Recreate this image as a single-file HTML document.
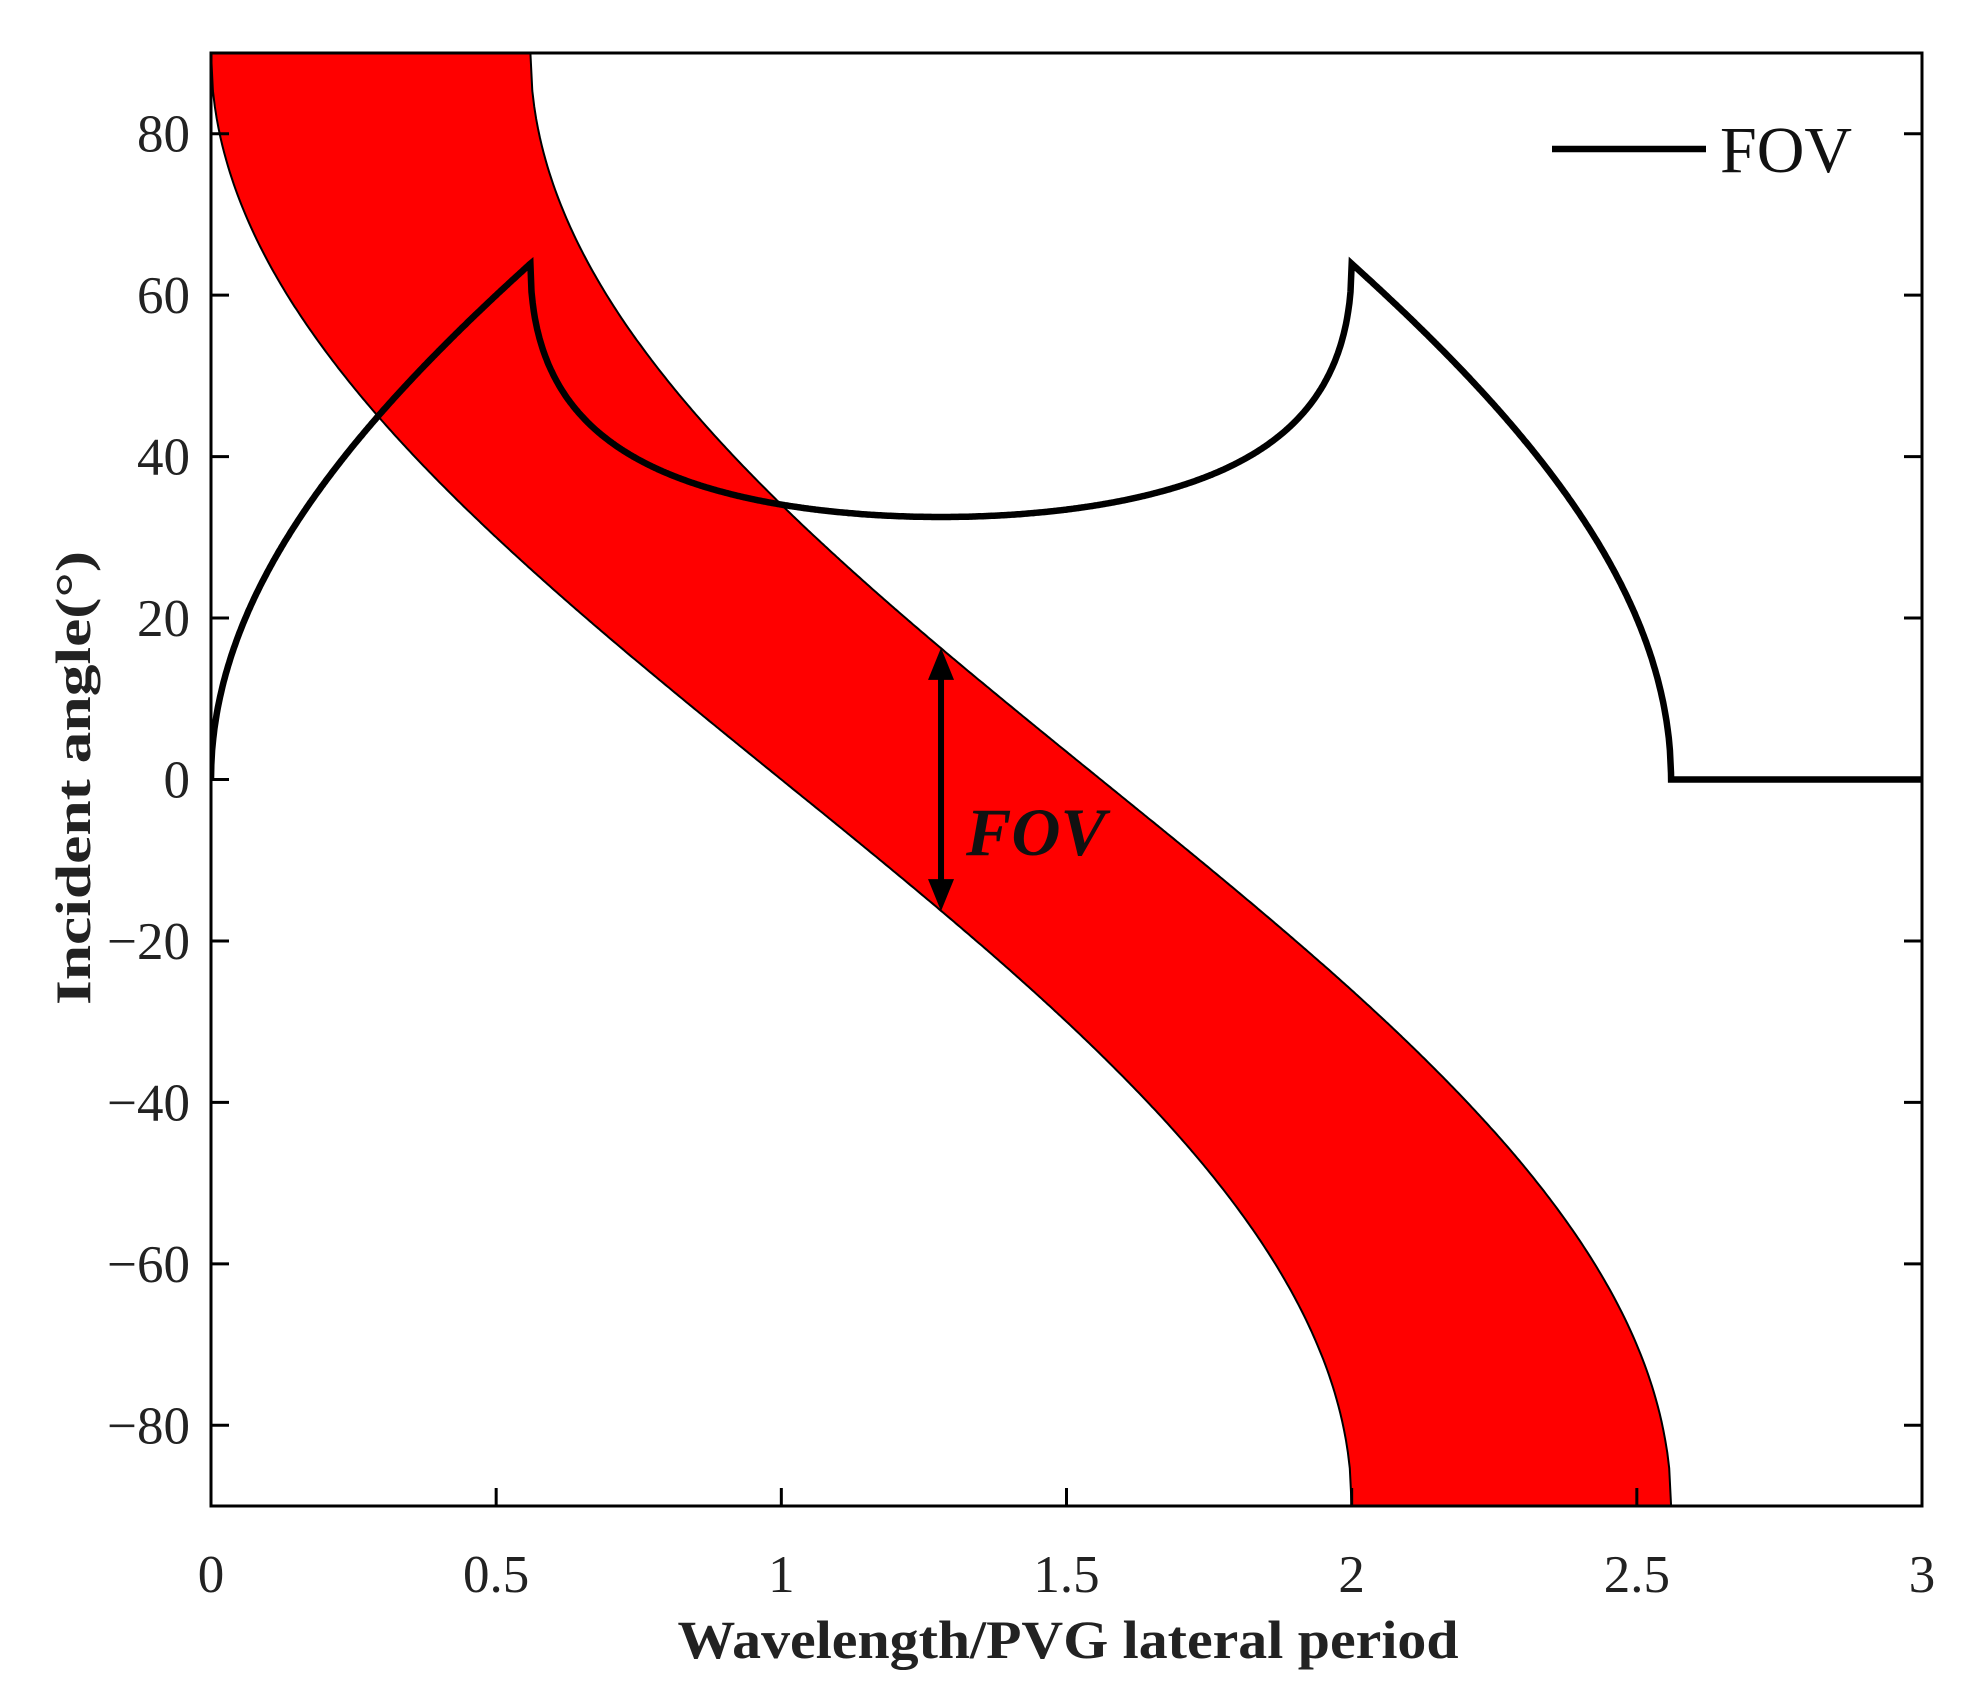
<!DOCTYPE html>
<html><head><meta charset="utf-8"><style>html,body{margin:0;padding:0;background:#fff}svg{display:block}</style></head>
<body>
<svg id="s" xmlns="http://www.w3.org/2000/svg" width="1965" height="1689" viewBox="0 0 1965 1689" font-family="'Liberation Serif', serif">
<defs><clipPath id="c"><rect x="211" y="53" width="1711" height="1453"/></clipPath></defs>
<g clip-path="url(#c)">
<path id="band" fill="#ff0000" stroke="#000" stroke-width="2"/>
<path id="fov" fill="none" stroke="#000" stroke-width="6.5" stroke-linejoin="miter"/>
</g>
<g id="ticks" stroke="#000" stroke-width="3"></g>
<rect x="211" y="53" width="1711" height="1453" fill="none" stroke="#000" stroke-width="3"/>
<g id="lab" font-size="53" fill="#222"></g>
<line x1="1552" y1="149" x2="1706" y2="149" stroke="#000" stroke-width="6.5"/>
<text x="1720" y="172" font-size="66" fill="#111">FOV</text>
<g id="arrow"></g>
<text x="966" y="855" font-size="68" font-weight="bold" font-style="italic" fill="#111">FOV</text>
<text x="0" y="0" font-size="50" font-weight="bold" fill="#222" textLength="454" lengthAdjust="spacingAndGlyphs" transform="translate(90,778) rotate(-90)" text-anchor="middle">Incident angle(°)</text>
<text x="1068" y="1658" font-size="54" font-weight="bold" fill="#222" textLength="781" lengthAdjust="spacingAndGlyphs" text-anchor="middle">Wavelength/PVG lateral period</text>
</svg>
<script>
var L=211,R=1922,T=53,B=1506;
function X(x){return L+(x/3)*(R-L);}
function Y(d){return T+(90-d)/180*(B-T);}
var D=180/Math.PI;function as(v){v=Math.max(-1,Math.min(1,v));return Math.asin(v)*D;}
var N=600,p=[],i,x;
for(i=0;i<=N;i++){x=0.56+2*i/N;p.push(X(x).toFixed(1)+','+Y(as(1.56-x)).toFixed(1));}
var q=[];
for(i=N;i>=0;i--){x=2*i/N;q.push(X(x).toFixed(1)+','+Y(as(1-x)).toFixed(1));}
var d='M'+X(0)+','+Y(90)+' L'+p.join(' L')+' L'+X(2.56)+','+Y(-95)+' L'+X(2)+','+Y(-95)+' L'+q.join(' L')+' Z';
document.getElementById('band').setAttribute('d',d);
function fov(x){if(x<=0.56)return 90-as(1-x);if(x<=2)return as(1.56-x)-as(1-x);if(x<=2.56)return as(1.56-x)+90;return 0;}
var M=1500;
var pts=[0,0.0005,0.002,0.005,0.56,2,2.5599,2.56];
var all=[];for(i=0;i<=M;i++)all.push(3*i/M);all=all.concat(pts).sort(function(a,b){return a-b});
var f=all.map(function(x){return X(x).toFixed(1)+','+Y(fov(x)).toFixed(1)});
document.getElementById('fov').setAttribute('d','M'+f.join(' L'));
var t='',l='';
for(var v=-80;v<=80;v+=20){var y=Y(v);t+='<line x1="'+L+'" y1="'+y+'" x2="'+(L+18)+'" y2="'+y+'"/><line x1="'+R+'" y1="'+y+'" x2="'+(R-18)+'" y2="'+y+'"/>';
l+='<text x="190" y="'+(y+18)+'" text-anchor="end">'+(v<0?'\u2212'+(-v):v)+'</text>';}
for(var k=0;k<=6;k++){var xx=X(k*0.5);t+='<line x1="'+xx+'" y1="'+B+'" x2="'+xx+'" y2="'+(B-18)+'"/>';
l+='<text x="'+xx+'" y="'+1592+'" text-anchor="middle">'+(k*0.5)+'</text>';}
document.getElementById('ticks').innerHTML=t;document.getElementById('lab').innerHTML=l;
var ax=X(1.28),y1=Y(16.3),y2=Y(-16.3);
document.getElementById('arrow').innerHTML='<line x1="'+ax+'" y1="'+(y1+25)+'" x2="'+ax+'" y2="'+(y2-25)+'" stroke="#000" stroke-width="6"/>'+
'<polygon points="'+ax+','+y1+' '+(ax-13)+','+(y1+32)+' '+(ax+13)+','+(y1+32)+'" fill="#000"/>'+
'<polygon points="'+ax+','+y2+' '+(ax-13)+','+(y2-32)+' '+(ax+13)+','+(y2-32)+'" fill="#000"/>';
</script>
</body></html>
